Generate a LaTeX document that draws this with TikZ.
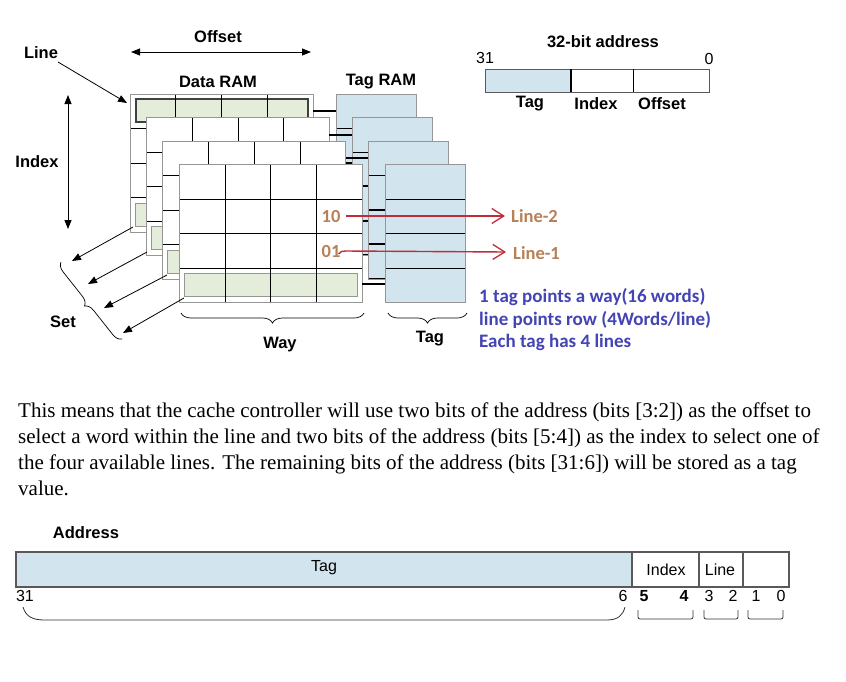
\documentclass[tikz,border=0pt]{standalone}
\usepackage{fontspec}
\setmainfont{Liberation Sans}
\newfontfamily\serifx{Liberation Serif}
\newfontfamily\calx{Carlito}
\usetikzlibrary{arrows.meta,decorations.pathreplacing}
\definecolor{tagblue}{RGB}{210,229,238}
\definecolor{rowgreen}{RGB}{228,236,218}
\definecolor{planegray}{RGB}{150,150,150}
\definecolor{redline}{RGB}{192,44,56}
\definecolor{browntext}{RGB}{184,128,86}
\definecolor{bluetext}{RGB}{68,68,180}
\tikzset{
  lab/.style={font=\bfseries\fontsize{16.5}{18}\selectfont, inner sep=0pt},
  reg/.style={font=\fontsize{16}{18}\selectfont, inner sep=0pt},
  calb/.style={font=\calx\bfseries\fontsize{18.5}{20}\selectfont, inner sep=0pt},
  note/.style={font=\calx\bfseries\fontsize{19}{22}\selectfont, inner sep=0pt, text=bluetext, anchor=west},
  para/.style={font=\serifx\fontsize{21}{26}\selectfont, inner sep=0pt, anchor=base west},
  blk/.style={-{Triangle[length=9pt,width=7pt]}, line width=0.8pt},
  dblk/.style={{Triangle[length=9pt,width=7pt]}-{Triangle[length=9pt,width=7pt]}, line width=0.8pt},
  redarrow/.style={draw=redline, line width=1.4pt, -{Straight Barb[length=12pt,width=15pt,line width=1.3pt]}},
  linebox/.style={fill=rowgreen, draw=planegray, line width=0.8pt},
  border/.style={draw=planegray, line width=0.9pt},
  bracebig/.style={decorate, decoration={brace, amplitude=10pt}, line width=0.7pt},
  boxline/.style={draw=black!65, line width=1.4pt}
}
\begin{document}
\begin{tikzpicture}[x=1pt,y=-1pt]
\useasboundingbox[fill=white] (0,0) rectangle (846,681);

% ---------------- stacked planes ----------------
\foreach \k in {0,1,2,3}{
  \pgfmathsetmacro\xo{130+16.4*\k}
  \pgfmathsetmacro\yo{94+23.6*\k}
  \pgfmathsetmacro\tx{\xo+206}
  \pgfmathsetmacro\cy{\k<3 ? \yo+17 : \yo+119}
  % data plane
  \fill[white] (\xo,\yo) rectangle ++(183,138);
  \draw[linebox] (\xo+5,\yo+109) rectangle ++(173,23);
  \ifnum\k=0
    \draw[linebox, draw=black!75, line width=1.6pt] (\xo+6,\yo+5) rectangle ++(172,23);
  \fi
  \foreach \c in {1,2,3}{\draw[line width=0.8pt] (\xo+45.75*\c,\yo) -- ++(0,138);}
  \foreach \r in {1,2,3}{\draw[line width=0.8pt] (\xo,\yo+34.5*\r) -- ++(183,0);}
  \draw[border] (\xo,\yo) rectangle ++(183,138);
  % connector to tag plane
  \draw[line width=1.8pt] (\xo+183,\cy) -- (\tx,\cy);
  % tag plane
  \fill[tagblue] (\tx,\yo) rectangle ++(80,138);
  \foreach \r in {1,2,3}{
    \ifnum\k>0
      \draw[line width=0.8pt] (\tx-16.4,\yo+34.5*\r+10) -- (\tx,\yo+34.5*\r+10) -- (\tx,\yo+34.5*\r) -- ++(80,0);
    \else
      \draw[line width=0.8pt] (\tx,\yo+34.5*\r) -- ++(80,0);
    \fi
  }
  \draw[border] (\tx,\yo) rectangle ++(80,138);
}

% ---------------- labels of the cache picture ----------------
\node[lab] (offset) at (218,37) {Offset};
\coordinate (offL) at (131,52);
\coordinate (offR) at (311,52);
\draw[dblk] (offL) -- (offR);

\node[lab] (line) at (41,53) {Line};
\coordinate (lineStart) at (58,62);
\coordinate (lineTip) at (127,103);
\draw[blk] (lineStart) -- (lineTip);

\node[lab] (dataram) at (218,82) {Data RAM};
\node[lab] (tagram) at (381,82) {Tag RAM};

\node[lab] (index) at (37,162) {Index};
\coordinate (idxT) at (68,95);
\coordinate (idxB) at (68,229);
\draw[dblk] (idxT) -- (idxB);

% set arrows
\coordinate (s1a) at (133,227); \coordinate (s1b) at (72,261);
\coordinate (s2a) at (147,252); \coordinate (s2b) at (88,284);
\coordinate (s3a) at (167,275); \coordinate (s3b) at (104,308);
\coordinate (s4a) at (184,298); \coordinate (s4b) at (123,333);
\draw[blk] (s1a) -- (s1b);
\draw[blk] (s2a) -- (s2b);
\draw[blk] (s3a) -- (s3b);
\draw[blk] (s4a) -- (s4b);
\coordinate (setA) at (122,339);
\coordinate (setB) at (61,262);
\draw[bracebig, decoration={amplitude=9pt}] (setA) -- (setB);
\node[lab] (set) at (63,322) {Set};

\coordinate (wayR) at (364,313);
\coordinate (wayL) at (181,313);
\draw[bracebig] (wayR) -- (wayL);
\node[lab] (way) at (280,345) {Way};
\coordinate (tagR) at (467,313);
\coordinate (tagL) at (388,313);
\draw[bracebig] (tagR) -- (tagL);
\node[lab] (tagb) at (430,339) {Tag};

% red pointers
\node[calb, text=browntext] (ten) at (331,216) {10};
\node[calb, text=browntext] (one) at (331,251) {01};
\node[calb, text=browntext, anchor=west] (line2) at (511,216) {Line-2};
\node[calb, text=browntext, anchor=west] (line1) at (513,253) {Line-1};
\coordinate (l2end) at (505,216);
\coordinate (l1end) at (506,252);
\draw[redarrow] (ten.east) ++(5,0) -- (l2end);
\draw[redarrow] (one.east) ++(-2,3) to[out=60,in=180] ++(7,-3) -- (l1end);

\node[note] (n1) at (479,297) {1 tag points a way(16 words)};
\node[note] (n2) at (479,320) {line points row (4Words/line)};
\node[note] (n3) at (479,342) {Each tag has 4 lines};

% ---------------- 32-bit address ----------------
\node[lab] (addr32) at (603,42) {32-bit address};
\node[reg] (b31) at (485,58) {31};
\node[reg] (b0) at (709,59) {0};
\fill[tagblue] (485,69) rectangle (571,92);
\draw[boxline, line width=1pt] (485,69) rectangle (709,92);
\draw[line width=1.6pt] (571,69) -- (571,92);
\draw[line width=1pt] (633,69) -- (633,92);
\node[lab] (ttag) at (530,104) {Tag};
\node[lab] (tindex) at (596,104) {Index};
\node[lab] (toffset) at (662,104) {Offset};

% ---------------- paragraph ----------------
\node[para] (p1) at (18,417) {This means that the cache controller will use two bits of the address (bits [3:2]) as the offset to};
\node[para] (p2) at (18,443) {select a word within the line and two bits of the address (bits [5:4]) as the index to select one of};
\node[para] (p3) at (18,469) {the four available lines. The remaining bits of the address (bits [31:6]) will be stored as a tag};
\node[para] (p4) at (18,495) {value.};

% ---------------- bottom address ----------------
\node[lab] (address) at (86,533) {Address};
\fill[tagblue] (16,552) rectangle (632,587);
\draw[boxline] (16,552) rectangle (789,587);
\draw[boxline] (632,552) -- (632,587);
\draw[boxline] (699,552) -- (699,587);
\draw[boxline] (743,552) -- (743,587);
\node[reg] (btag) at (324,568) {Tag};
\node[reg] (bindex) at (666,570) {Index};
\node[reg] (bline) at (720,570) {Line};
\node[reg] (n31) at (25,596) {31};
\node[reg] (n6) at (623,596) {6};
\node[reg, font=\bfseries\fontsize{16}{18}\selectfont] (n5) at (644,596) {5};
\node[reg, font=\bfseries\fontsize{16}{18}\selectfont] (n4) at (684,596) {4};
\node[reg] (n3b) at (709,596) {3};
\node[reg] (n2b) at (733,596) {2};
\node[reg] (n1b) at (756,596) {1};
\node[reg] (n0b) at (781,596) {0};
\draw[line width=0.8pt, draw=black!80] (23,607) .. controls (26,617) and (33,620) .. (45,620) -- (607,620) .. controls (618,620) and (623,615) .. (625,607);
\draw[line width=0.8pt, draw=black!80, rounded corners=2pt] (638,610) -- (638,619) -- (693,619) -- (693,610);
\draw[line width=0.8pt, draw=black!80, rounded corners=2pt] (704,610) -- (704,619) -- (738,619) -- (738,610);
\draw[line width=0.8pt, draw=black!80, rounded corners=2pt] (748,610) -- (748,619) -- (783,619) -- (783,610);
\end{tikzpicture}
\end{document}
